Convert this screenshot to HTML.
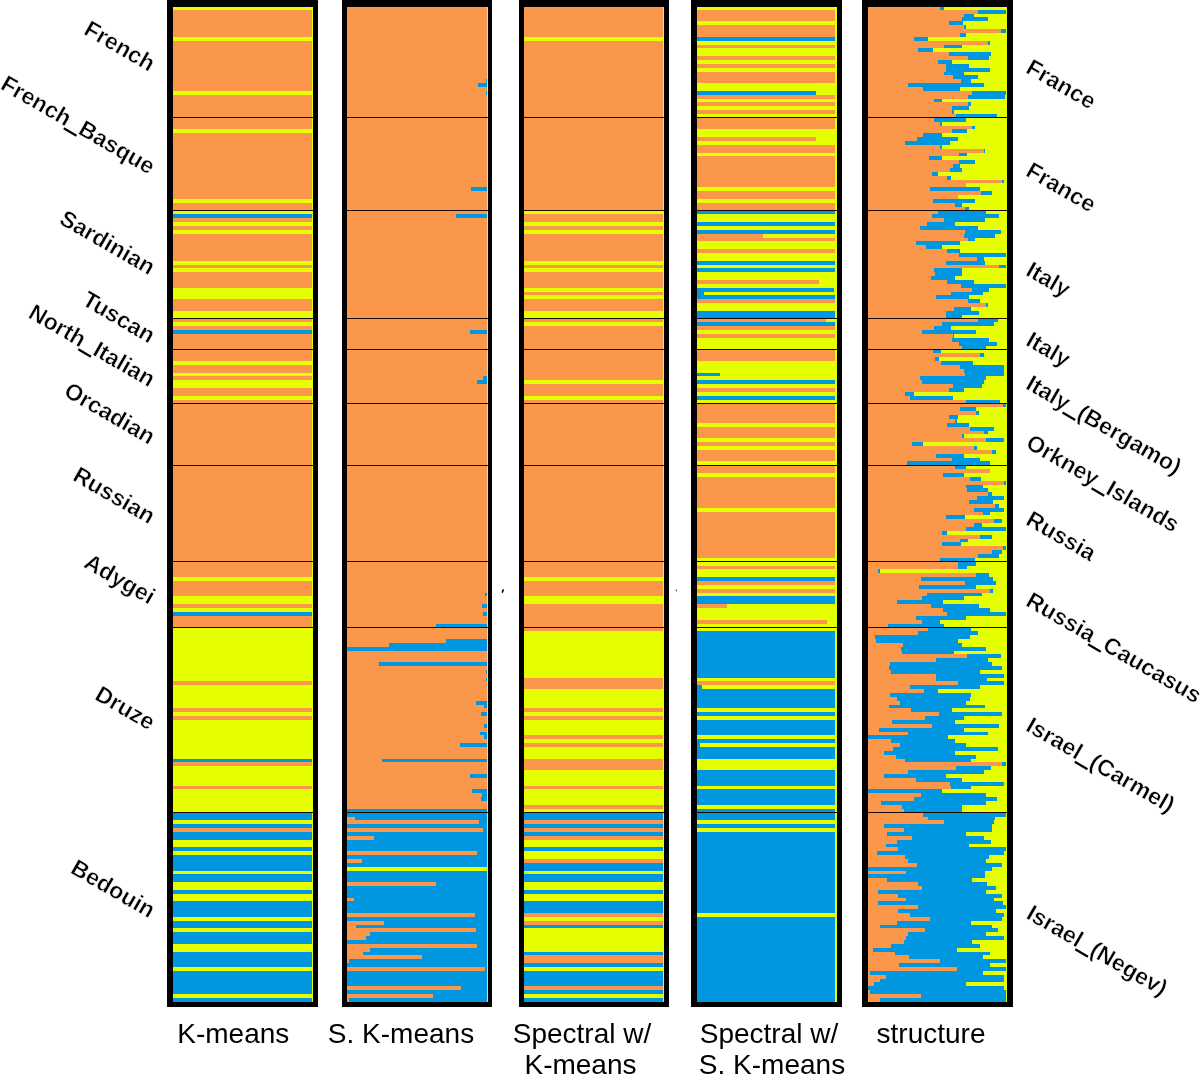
<!DOCTYPE html>
<html><head><meta charset="utf-8"><title>Clustering comparison</title>
<style>
html,body{margin:0;padding:0;background:#fff;}
body{width:1200px;height:1075px;overflow:hidden;}
svg{display:block;}
.c path,.c rect{shape-rendering:crispEdges;}
.lb{font-family:"Liberation Sans",Arial,sans-serif;font-weight:bold;font-size:23.1px;fill:#000;stroke:#fff;stroke-width:0.45px;}
.us{stroke:#000;stroke-width:1.4px;}
.bt{font-family:"Liberation Sans",Arial,sans-serif;font-size:28px;fill:#000;}
</style></head><body>
<svg width="1200" height="1075" viewBox="0 0 1200 1075">
<rect x="0" y="0" width="1200" height="1075" fill="#fff"/>
<g class="c"><rect x="166.9" y="-2" width="150.8" height="1008.88" fill="#000"/>
<rect x="172.8" y="5.9" width="140.1" height="995.88" fill="#e6ff00"/>
<path fill="#0096e0" d="M173 214.34h139v3.86h-139zM173 330.14h139v3.86h-139zM173 611.92h139v3.86h-139zM173 758.6h139v3.86h-139zM173 812.64h139v3.86h-139zM173 816.5h139v3.86h-139zM173 824.22h139v3.86h-139zM173 831.94h139v3.86h-139zM173 835.8h139v3.86h-139zM173 847.38h139v3.86h-139zM173 855.1h139v3.86h-139zM173 858.96h139v3.86h-139zM173 862.82h139v3.86h-139zM173 866.68h139v3.86h-139zM173 874.4h139v3.86h-139zM173 878.26h139v3.86h-139zM173 889.84h139v3.86h-139zM173 901.42h139v3.86h-139zM173 905.28h139v3.86h-139zM173 909.14h139v3.86h-139zM173 913h139v3.86h-139zM173 920.72h139v3.86h-139zM173 924.58h139v3.86h-139zM173 932.3h139v3.86h-139zM173 936.16h139v3.86h-139zM173 940.02h139v3.86h-139zM173 951.6h139v3.86h-139zM173 955.46h139v3.86h-139zM173 959.32h139v3.86h-139zM173 963.18h139v3.86h-139zM173 970.9h139v3.86h-139zM173 974.76h139v3.86h-139zM173 978.62h139v3.86h-139zM173 982.48h139v3.86h-139zM173 986.34h139v3.86h-139zM173 990.2h139v3.86h-139zM173 997.92h139v3.86h-139z"/>
<path fill="#fa974a" d="M172.8 5.9h0.2v3.86h-0.2zM172.8 9.76h139.2v3.86h-139.2zM172.8 13.62h139.2v3.86h-139.2zM172.8 17.48h139.2v3.86h-139.2zM172.8 21.34h139.2v3.86h-139.2zM172.8 25.2h139.2v3.86h-139.2zM172.8 29.06h139.2v3.86h-139.2zM172.8 32.92h139.2v3.86h-139.2zM172.8 36.78h0.2v3.86h-0.2zM172.8 40.64h139.2v3.86h-139.2zM172.8 44.5h139.2v3.86h-139.2zM172.8 48.36h139.2v3.86h-139.2zM172.8 52.22h139.2v3.86h-139.2zM172.8 56.08h139.2v3.86h-139.2zM172.8 59.94h139.2v3.86h-139.2zM172.8 63.8h139.2v3.86h-139.2zM172.8 67.66h139.2v3.86h-139.2zM172.8 71.52h139.2v3.86h-139.2zM172.8 75.38h139.2v3.86h-139.2zM172.8 79.24h139.2v3.86h-139.2zM172.8 83.1h139.2v3.86h-139.2zM172.8 86.96h139.2v3.86h-139.2zM172.8 90.82h0.2v3.86h-0.2zM172.8 94.68h139.2v3.86h-139.2zM172.8 98.54h139.2v3.86h-139.2zM172.8 102.4h139.2v3.86h-139.2zM172.8 106.26h139.2v3.86h-139.2zM172.8 110.12h139.2v3.86h-139.2zM172.8 113.98h139.2v3.86h-139.2zM172.8 117.84h139.2v3.86h-139.2zM172.8 121.7h139.2v3.86h-139.2zM172.8 125.56h139.2v3.86h-139.2zM172.8 129.42h0.2v3.86h-0.2zM172.8 133.28h139.2v3.86h-139.2zM172.8 137.14h139.2v3.86h-139.2zM172.8 141h139.2v3.86h-139.2zM172.8 144.86h139.2v3.86h-139.2zM172.8 148.72h139.2v3.86h-139.2zM172.8 152.58h139.2v3.86h-139.2zM172.8 156.44h139.2v3.86h-139.2zM172.8 160.3h139.2v3.86h-139.2zM172.8 164.16h139.2v3.86h-139.2zM172.8 168.02h139.2v3.86h-139.2zM172.8 171.88h139.2v3.86h-139.2zM172.8 175.74h139.2v3.86h-139.2zM172.8 179.6h139.2v3.86h-139.2zM172.8 183.46h139.2v3.86h-139.2zM172.8 187.32h139.2v3.86h-139.2zM172.8 191.18h139.2v3.86h-139.2zM172.8 195.04h139.2v3.86h-139.2zM172.8 198.9h0.2v3.86h-0.2zM172.8 202.76h139.2v3.86h-139.2zM172.8 206.62h139.2v3.86h-139.2zM172.8 210.48h0.2v3.86h-0.2zM172.8 214.34h0.2v3.86h-0.2zM172.8 218.2h139.2v3.86h-139.2zM172.8 222.06h0.2v3.86h-0.2zM172.8 225.92h139.2v3.86h-139.2zM172.8 229.78h0.2v3.86h-0.2zM172.8 233.64h139.2v3.86h-139.2zM172.8 237.5h139.2v3.86h-139.2zM172.8 241.36h139.2v3.86h-139.2zM172.8 245.22h139.2v3.86h-139.2zM172.8 249.08h139.2v3.86h-139.2zM172.8 252.94h139.2v3.86h-139.2zM172.8 256.8h139.2v3.86h-139.2zM172.8 260.66h0.2v3.86h-0.2zM172.8 264.52h139.2v3.86h-139.2zM172.8 268.38h0.2v3.86h-0.2zM172.8 272.24h139.2v3.86h-139.2zM172.8 276.1h139.2v3.86h-139.2zM172.8 279.96h139.2v3.86h-139.2zM172.8 283.82h139.2v3.86h-139.2zM172.8 287.68h0.2v3.86h-0.2zM172.8 291.54h0.2v3.86h-0.2zM172.8 295.4h0.2v3.86h-0.2zM172.8 299.26h139.2v3.86h-139.2zM172.8 303.12h139.2v3.86h-139.2zM172.8 306.98h139.2v3.86h-139.2zM172.8 310.84h0.2v3.86h-0.2zM172.8 314.7h0.2v3.86h-0.2zM172.8 318.56h139.2v3.86h-139.2zM172.8 322.42h0.2v3.86h-0.2zM172.8 326.28h139.2v3.86h-139.2zM172.8 330.14h0.2v3.86h-0.2zM172.8 334h139.2v3.86h-139.2zM172.8 337.86h139.2v3.86h-139.2zM172.8 341.72h139.2v3.86h-139.2zM172.8 345.58h139.2v3.86h-139.2zM172.8 349.44h139.2v3.86h-139.2zM172.8 353.3h139.2v3.86h-139.2zM172.8 357.16h139.2v3.86h-139.2zM172.8 361.02h0.2v3.86h-0.2zM172.8 364.88h139.2v3.86h-139.2zM172.8 368.74h139.2v3.86h-139.2zM172.8 372.6h0.2v3.86h-0.2zM172.8 376.46h139.2v3.86h-139.2zM172.8 380.32h0.2v3.86h-0.2zM172.8 384.18h0.2v3.86h-0.2zM172.8 388.04h139.2v3.86h-139.2zM172.8 391.9h139.2v3.86h-139.2zM172.8 395.76h0.2v3.86h-0.2zM172.8 399.62h139.2v3.86h-139.2zM172.8 403.48h139.2v3.86h-139.2zM172.8 407.34h139.2v3.86h-139.2zM172.8 411.2h139.2v3.86h-139.2zM172.8 415.06h139.2v3.86h-139.2zM172.8 418.92h139.2v3.86h-139.2zM172.8 422.78h139.2v3.86h-139.2zM172.8 426.64h139.2v3.86h-139.2zM172.8 430.5h139.2v3.86h-139.2zM172.8 434.36h139.2v3.86h-139.2zM172.8 438.22h139.2v3.86h-139.2zM172.8 442.08h139.2v3.86h-139.2zM172.8 445.94h139.2v3.86h-139.2zM172.8 449.8h139.2v3.86h-139.2zM172.8 453.66h139.2v3.86h-139.2zM172.8 457.52h139.2v3.86h-139.2zM172.8 461.38h139.2v3.86h-139.2zM172.8 465.24h139.2v3.86h-139.2zM172.8 469.1h139.2v3.86h-139.2zM172.8 472.96h139.2v3.86h-139.2zM172.8 476.82h139.2v3.86h-139.2zM172.8 480.68h139.2v3.86h-139.2zM172.8 484.54h139.2v3.86h-139.2zM172.8 488.4h139.2v3.86h-139.2zM172.8 492.26h139.2v3.86h-139.2zM172.8 496.12h139.2v3.86h-139.2zM172.8 499.98h139.2v3.86h-139.2zM172.8 503.84h139.2v3.86h-139.2zM172.8 507.7h139.2v3.86h-139.2zM172.8 511.56h139.2v3.86h-139.2zM172.8 515.42h139.2v3.86h-139.2zM172.8 519.28h139.2v3.86h-139.2zM172.8 523.14h139.2v3.86h-139.2zM172.8 527h139.2v3.86h-139.2zM172.8 530.86h139.2v3.86h-139.2zM172.8 534.72h139.2v3.86h-139.2zM172.8 538.58h139.2v3.86h-139.2zM172.8 542.44h139.2v3.86h-139.2zM172.8 546.3h139.2v3.86h-139.2zM172.8 550.16h139.2v3.86h-139.2zM172.8 554.02h139.2v3.86h-139.2zM172.8 557.88h139.2v3.86h-139.2zM172.8 561.74h139.2v3.86h-139.2zM172.8 565.6h139.2v3.86h-139.2zM172.8 569.46h139.2v3.86h-139.2zM172.8 573.32h139.2v3.86h-139.2zM172.8 577.18h0.2v3.86h-0.2zM172.8 581.04h139.2v3.86h-139.2zM172.8 584.9h139.2v3.86h-139.2zM172.8 588.76h139.2v3.86h-139.2zM172.8 592.62h139.2v3.86h-139.2zM172.8 596.48h0.2v3.86h-0.2zM172.8 600.34h0.2v3.86h-0.2zM172.8 604.2h139.2v3.86h-139.2zM172.8 608.06h0.2v3.86h-0.2zM172.8 611.92h0.2v3.86h-0.2zM172.8 615.78h139.2v3.86h-139.2zM172.8 619.64h139.2v3.86h-139.2zM172.8 623.5h139.2v3.86h-139.2zM172.8 627.36h0.2v3.86h-0.2zM172.8 631.22h0.2v3.86h-0.2zM172.8 635.08h0.2v3.86h-0.2zM172.8 638.94h0.2v3.86h-0.2zM172.8 642.8h0.2v3.86h-0.2zM172.8 646.66h0.2v3.86h-0.2zM172.8 650.52h0.2v3.86h-0.2zM172.8 654.38h0.2v3.86h-0.2zM172.8 658.24h0.2v3.86h-0.2zM172.8 662.1h0.2v3.86h-0.2zM172.8 665.96h0.2v3.86h-0.2zM172.8 669.82h0.2v3.86h-0.2zM172.8 673.68h0.2v3.86h-0.2zM172.8 677.54h0.2v3.86h-0.2zM172.8 681.4h139.2v3.86h-139.2zM172.8 685.26h0.2v3.86h-0.2zM172.8 689.12h0.2v3.86h-0.2zM172.8 692.98h0.2v3.86h-0.2zM172.8 696.84h0.2v3.86h-0.2zM172.8 700.7h0.2v3.86h-0.2zM172.8 704.56h0.2v3.86h-0.2zM172.8 708.42h139.2v3.86h-139.2zM172.8 712.28h0.2v3.86h-0.2zM172.8 716.14h139.2v3.86h-139.2zM172.8 720h0.2v3.86h-0.2zM172.8 723.86h0.2v3.86h-0.2zM172.8 727.72h0.2v3.86h-0.2zM172.8 731.58h0.2v3.86h-0.2zM172.8 735.44h0.2v3.86h-0.2zM172.8 739.3h0.2v3.86h-0.2zM172.8 743.16h0.2v3.86h-0.2zM172.8 747.02h0.2v3.86h-0.2zM172.8 750.88h0.2v3.86h-0.2zM172.8 754.74h0.2v3.86h-0.2zM172.8 758.6h0.2v3.86h-0.2zM172.8 762.46h139.2v3.86h-139.2zM172.8 766.32h0.2v3.86h-0.2zM172.8 770.18h0.2v3.86h-0.2zM172.8 774.04h0.2v3.86h-0.2zM172.8 777.9h0.2v3.86h-0.2zM172.8 781.76h0.2v3.86h-0.2zM172.8 785.62h139.2v3.86h-139.2zM172.8 789.48h0.2v3.86h-0.2zM172.8 793.34h0.2v3.86h-0.2zM172.8 797.2h0.2v3.86h-0.2zM172.8 801.06h0.2v3.86h-0.2zM172.8 804.92h0.2v3.86h-0.2zM172.8 808.78h0.2v3.86h-0.2zM172.8 812.64h0.2v3.86h-0.2zM172.8 816.5h0.2v3.86h-0.2zM172.8 820.36h0.2v3.86h-0.2zM172.8 824.22h0.2v3.86h-0.2zM172.8 828.08h139.2v3.86h-139.2zM172.8 831.94h0.2v3.86h-0.2zM172.8 835.8h0.2v3.86h-0.2zM172.8 839.66h0.2v3.86h-0.2zM172.8 843.52h0.2v3.86h-0.2zM172.8 847.38h0.2v3.86h-0.2zM172.8 851.24h0.2v3.86h-0.2zM172.8 855.1h0.2v3.86h-0.2zM172.8 858.96h0.2v3.86h-0.2zM172.8 862.82h0.2v3.86h-0.2zM172.8 866.68h0.2v3.86h-0.2zM172.8 870.54h0.2v3.86h-0.2zM172.8 874.4h0.2v3.86h-0.2zM172.8 878.26h0.2v3.86h-0.2zM172.8 882.12h0.2v3.86h-0.2zM172.8 885.98h0.2v3.86h-0.2zM172.8 889.84h0.2v3.86h-0.2zM172.8 893.7h0.2v3.86h-0.2zM172.8 897.56h0.2v3.86h-0.2zM172.8 901.42h0.2v3.86h-0.2zM172.8 905.28h0.2v3.86h-0.2zM172.8 909.14h0.2v3.86h-0.2zM172.8 913h0.2v3.86h-0.2zM172.8 916.86h0.2v3.86h-0.2zM172.8 920.72h0.2v3.86h-0.2zM172.8 924.58h0.2v3.86h-0.2zM172.8 928.44h0.2v3.86h-0.2zM172.8 932.3h0.2v3.86h-0.2zM172.8 936.16h0.2v3.86h-0.2zM172.8 940.02h0.2v3.86h-0.2zM172.8 943.88h0.2v3.86h-0.2zM172.8 947.74h0.2v3.86h-0.2zM172.8 951.6h0.2v3.86h-0.2zM172.8 955.46h0.2v3.86h-0.2zM172.8 959.32h0.2v3.86h-0.2zM172.8 963.18h0.2v3.86h-0.2zM172.8 967.04h0.2v3.86h-0.2zM172.8 970.9h0.2v3.86h-0.2zM172.8 974.76h0.2v3.86h-0.2zM172.8 978.62h0.2v3.86h-0.2zM172.8 982.48h0.2v3.86h-0.2zM172.8 986.34h0.2v3.86h-0.2zM172.8 990.2h0.2v3.86h-0.2zM172.8 994.06h0.2v3.86h-0.2zM172.8 997.92h0.2v3.86h-0.2z"/>
<rect x="172.8" y="117.19" width="140.1" height="1.3" fill="#1a0a00"/>
<rect x="172.8" y="209.83" width="140.1" height="1.3" fill="#1a0a00"/>
<rect x="172.8" y="317.91" width="140.1" height="1.3" fill="#1a0a00"/>
<rect x="172.8" y="348.79" width="140.1" height="1.3" fill="#1a0a00"/>
<rect x="172.8" y="402.83" width="140.1" height="1.3" fill="#1a0a00"/>
<rect x="172.8" y="464.59" width="140.1" height="1.3" fill="#1a0a00"/>
<rect x="172.8" y="561.09" width="140.1" height="1.3" fill="#1a0a00"/>
<rect x="172.8" y="626.71" width="140.1" height="1.3" fill="#1a0a00"/>
<rect x="172.8" y="811.99" width="140.1" height="1.3" fill="#1a0a00"/>
<rect x="166.9" y="-2" width="150.8" height="9" fill="#000"/></g>
<g class="c"><rect x="341.8" y="-2" width="150.5" height="1008.88" fill="#000"/>
<rect x="347.4" y="5.9" width="140.7" height="995.88" fill="#e6ff00"/>
<path fill="#0096e0" d="M486 79.24h1v3.86h-1zM478 83.1h9v3.86h-9zM486 90.82h1v3.86h-1zM471 187.32h16v3.86h-16zM456 214.34h31v3.86h-31zM470 330.14h17v3.86h-17zM483 376.46h4v3.86h-4zM477 380.32h10v3.86h-10zM485 592.62h2v3.86h-2zM482 604.2h5v3.86h-5zM483 611.92h4v3.86h-4zM436 623.5h51v3.86h-51zM446 638.94h41v3.86h-41zM389 642.8h98v3.86h-98zM347 646.66h140v3.86h-140zM379 662.1h108v3.86h-108zM486 669.82h1v3.86h-1zM486 677.54h1v3.86h-1zM476 700.7h11v3.86h-11zM484 704.56h3v3.86h-3zM481 712.28h6v3.86h-6zM484 723.86h3v3.86h-3zM480 731.58h7v3.86h-7zM484 735.44h3v3.86h-3zM460 743.16h27v3.86h-27zM382 758.6h105v3.86h-105zM470 774.04h17v3.86h-17zM472 789.48h15v3.86h-15zM482 793.34h5v3.86h-5zM481 797.2h6v3.86h-6zM347 808.78h140v3.86h-140zM347 812.64h140v3.86h-140zM355 816.5h132v3.86h-132zM479 820.36h8v3.86h-8zM347 824.22h140v3.86h-140zM483 828.08h4v3.86h-4zM347 831.94h140v3.86h-140zM374 835.8h113v3.86h-113zM347 839.66h140v3.86h-140zM347 843.52h140v3.86h-140zM347 847.38h140v3.86h-140zM477 851.24h10v3.86h-10zM347 855.1h140v3.86h-140zM362 858.96h125v3.86h-125zM347 862.82h140v3.86h-140zM347 870.54h140v3.86h-140zM347 874.4h140v3.86h-140zM347 878.26h140v3.86h-140zM436 882.12h51v3.86h-51zM347 885.98h140v3.86h-140zM347 889.84h140v3.86h-140zM347 893.7h140v3.86h-140zM354 897.56h133v3.86h-133zM347 901.42h140v3.86h-140zM347 905.28h140v3.86h-140zM347 909.14h140v3.86h-140zM475 913h12v3.86h-12zM347 916.86h140v3.86h-140zM384 920.72h103v3.86h-103zM356 924.58h131v3.86h-131zM476 928.44h11v3.86h-11zM370 932.3h117v3.86h-117zM366 936.16h121v3.86h-121zM347 940.02h140v3.86h-140zM477 943.88h10v3.86h-10zM370 947.74h117v3.86h-117zM363 951.6h124v3.86h-124zM422 955.46h65v3.86h-65zM349 959.32h138v3.86h-138zM347 963.18h140v3.86h-140zM485 967.04h2v3.86h-2zM347 970.9h140v3.86h-140zM347 974.76h140v3.86h-140zM347 978.62h140v3.86h-140zM347 982.48h140v3.86h-140zM461 986.34h26v3.86h-26zM347 990.2h140v3.86h-140zM433 994.06h54v3.86h-54zM349 997.92h138v3.86h-138z"/>
<path fill="#fa974a" d="M347.4 5.9h139.6v3.86h-139.6zM347.4 9.76h139.6v3.86h-139.6zM347.4 13.62h139.6v3.86h-139.6zM347.4 17.48h139.6v3.86h-139.6zM347.4 21.34h139.6v3.86h-139.6zM347.4 25.2h139.6v3.86h-139.6zM347.4 29.06h139.6v3.86h-139.6zM347.4 32.92h139.6v3.86h-139.6zM347.4 36.78h139.6v3.86h-139.6zM347.4 40.64h139.6v3.86h-139.6zM347.4 44.5h139.6v3.86h-139.6zM347.4 48.36h139.6v3.86h-139.6zM347.4 52.22h139.6v3.86h-139.6zM347.4 56.08h139.6v3.86h-139.6zM347.4 59.94h139.6v3.86h-139.6zM347.4 63.8h139.6v3.86h-139.6zM347.4 67.66h139.6v3.86h-139.6zM347.4 71.52h139.6v3.86h-139.6zM347.4 75.38h139.6v3.86h-139.6zM347.4 79.24h138.6v3.86h-138.6zM347.4 83.1h130.6v3.86h-130.6zM347.4 86.96h139.6v3.86h-139.6zM347.4 90.82h138.6v3.86h-138.6zM347.4 94.68h139.6v3.86h-139.6zM347.4 98.54h139.6v3.86h-139.6zM347.4 102.4h139.6v3.86h-139.6zM347.4 106.26h139.6v3.86h-139.6zM347.4 110.12h139.6v3.86h-139.6zM347.4 113.98h139.6v3.86h-139.6zM347.4 117.84h139.6v3.86h-139.6zM347.4 121.7h139.6v3.86h-139.6zM347.4 125.56h139.6v3.86h-139.6zM347.4 129.42h139.6v3.86h-139.6zM347.4 133.28h139.6v3.86h-139.6zM347.4 137.14h139.6v3.86h-139.6zM347.4 141h139.6v3.86h-139.6zM347.4 144.86h139.6v3.86h-139.6zM347.4 148.72h139.6v3.86h-139.6zM347.4 152.58h139.6v3.86h-139.6zM347.4 156.44h139.6v3.86h-139.6zM347.4 160.3h139.6v3.86h-139.6zM347.4 164.16h139.6v3.86h-139.6zM347.4 168.02h139.6v3.86h-139.6zM347.4 171.88h139.6v3.86h-139.6zM347.4 175.74h139.6v3.86h-139.6zM347.4 179.6h139.6v3.86h-139.6zM347.4 183.46h139.6v3.86h-139.6zM347.4 187.32h123.6v3.86h-123.6zM347.4 191.18h139.6v3.86h-139.6zM347.4 195.04h139.6v3.86h-139.6zM347.4 198.9h139.6v3.86h-139.6zM347.4 202.76h139.6v3.86h-139.6zM347.4 206.62h139.6v3.86h-139.6zM347.4 210.48h139.6v3.86h-139.6zM347.4 214.34h108.6v3.86h-108.6zM347.4 218.2h139.6v3.86h-139.6zM347.4 222.06h139.6v3.86h-139.6zM347.4 225.92h139.6v3.86h-139.6zM347.4 229.78h139.6v3.86h-139.6zM347.4 233.64h139.6v3.86h-139.6zM347.4 237.5h139.6v3.86h-139.6zM347.4 241.36h139.6v3.86h-139.6zM347.4 245.22h139.6v3.86h-139.6zM347.4 249.08h139.6v3.86h-139.6zM347.4 252.94h139.6v3.86h-139.6zM347.4 256.8h139.6v3.86h-139.6zM347.4 260.66h139.6v3.86h-139.6zM347.4 264.52h139.6v3.86h-139.6zM347.4 268.38h139.6v3.86h-139.6zM347.4 272.24h139.6v3.86h-139.6zM347.4 276.1h139.6v3.86h-139.6zM347.4 279.96h139.6v3.86h-139.6zM347.4 283.82h139.6v3.86h-139.6zM347.4 287.68h139.6v3.86h-139.6zM347.4 291.54h139.6v3.86h-139.6zM347.4 295.4h139.6v3.86h-139.6zM347.4 299.26h139.6v3.86h-139.6zM347.4 303.12h139.6v3.86h-139.6zM347.4 306.98h139.6v3.86h-139.6zM347.4 310.84h139.6v3.86h-139.6zM347.4 314.7h139.6v3.86h-139.6zM347.4 318.56h139.6v3.86h-139.6zM347.4 322.42h139.6v3.86h-139.6zM347.4 326.28h139.6v3.86h-139.6zM347.4 330.14h122.6v3.86h-122.6zM347.4 334h139.6v3.86h-139.6zM347.4 337.86h139.6v3.86h-139.6zM347.4 341.72h139.6v3.86h-139.6zM347.4 345.58h139.6v3.86h-139.6zM347.4 349.44h139.6v3.86h-139.6zM347.4 353.3h139.6v3.86h-139.6zM347.4 357.16h139.6v3.86h-139.6zM347.4 361.02h139.6v3.86h-139.6zM347.4 364.88h139.6v3.86h-139.6zM347.4 368.74h139.6v3.86h-139.6zM347.4 372.6h139.6v3.86h-139.6zM347.4 376.46h135.6v3.86h-135.6zM347.4 380.32h129.6v3.86h-129.6zM347.4 384.18h139.6v3.86h-139.6zM347.4 388.04h139.6v3.86h-139.6zM347.4 391.9h139.6v3.86h-139.6zM347.4 395.76h139.6v3.86h-139.6zM347.4 399.62h139.6v3.86h-139.6zM347.4 403.48h139.6v3.86h-139.6zM347.4 407.34h139.6v3.86h-139.6zM347.4 411.2h139.6v3.86h-139.6zM347.4 415.06h139.6v3.86h-139.6zM347.4 418.92h139.6v3.86h-139.6zM347.4 422.78h139.6v3.86h-139.6zM347.4 426.64h139.6v3.86h-139.6zM347.4 430.5h139.6v3.86h-139.6zM347.4 434.36h139.6v3.86h-139.6zM347.4 438.22h139.6v3.86h-139.6zM347.4 442.08h139.6v3.86h-139.6zM347.4 445.94h139.6v3.86h-139.6zM347.4 449.8h139.6v3.86h-139.6zM347.4 453.66h139.6v3.86h-139.6zM347.4 457.52h139.6v3.86h-139.6zM347.4 461.38h139.6v3.86h-139.6zM347.4 465.24h139.6v3.86h-139.6zM347.4 469.1h139.6v3.86h-139.6zM347.4 472.96h139.6v3.86h-139.6zM347.4 476.82h139.6v3.86h-139.6zM347.4 480.68h139.6v3.86h-139.6zM347.4 484.54h139.6v3.86h-139.6zM347.4 488.4h139.6v3.86h-139.6zM347.4 492.26h139.6v3.86h-139.6zM347.4 496.12h139.6v3.86h-139.6zM347.4 499.98h139.6v3.86h-139.6zM347.4 503.84h139.6v3.86h-139.6zM347.4 507.7h139.6v3.86h-139.6zM347.4 511.56h139.6v3.86h-139.6zM347.4 515.42h139.6v3.86h-139.6zM347.4 519.28h139.6v3.86h-139.6zM347.4 523.14h139.6v3.86h-139.6zM347.4 527h139.6v3.86h-139.6zM347.4 530.86h139.6v3.86h-139.6zM347.4 534.72h139.6v3.86h-139.6zM347.4 538.58h139.6v3.86h-139.6zM347.4 542.44h139.6v3.86h-139.6zM347.4 546.3h139.6v3.86h-139.6zM347.4 550.16h139.6v3.86h-139.6zM347.4 554.02h139.6v3.86h-139.6zM347.4 557.88h139.6v3.86h-139.6zM347.4 561.74h139.6v3.86h-139.6zM347.4 565.6h139.6v3.86h-139.6zM347.4 569.46h139.6v3.86h-139.6zM347.4 573.32h139.6v3.86h-139.6zM347.4 577.18h139.6v3.86h-139.6zM347.4 581.04h139.6v3.86h-139.6zM347.4 584.9h139.6v3.86h-139.6zM347.4 588.76h139.6v3.86h-139.6zM347.4 592.62h137.6v3.86h-137.6zM347.4 596.48h139.6v3.86h-139.6zM347.4 600.34h139.6v3.86h-139.6zM347.4 604.2h134.6v3.86h-134.6zM347.4 608.06h139.6v3.86h-139.6zM347.4 611.92h135.6v3.86h-135.6zM347.4 615.78h139.6v3.86h-139.6zM347.4 619.64h139.6v3.86h-139.6zM347.4 623.5h88.6v3.86h-88.6zM347.4 627.36h139.6v3.86h-139.6zM347.4 631.22h139.6v3.86h-139.6zM347.4 635.08h139.6v3.86h-139.6zM347.4 638.94h98.6v3.86h-98.6zM347.4 642.8h41.6v3.86h-41.6zM347.4 650.52h139.6v3.86h-139.6zM347.4 654.38h139.6v3.86h-139.6zM347.4 658.24h139.6v3.86h-139.6zM347.4 662.1h31.6v3.86h-31.6zM347.4 665.96h139.6v3.86h-139.6zM347.4 669.82h138.6v3.86h-138.6zM347.4 673.68h139.6v3.86h-139.6zM347.4 677.54h138.6v3.86h-138.6zM347.4 681.4h139.6v3.86h-139.6zM347.4 685.26h139.6v3.86h-139.6zM347.4 689.12h139.6v3.86h-139.6zM347.4 692.98h139.6v3.86h-139.6zM347.4 696.84h139.6v3.86h-139.6zM347.4 700.7h128.6v3.86h-128.6zM347.4 704.56h136.6v3.86h-136.6zM347.4 708.42h139.6v3.86h-139.6zM347.4 712.28h133.6v3.86h-133.6zM347.4 716.14h139.6v3.86h-139.6zM347.4 720h139.6v3.86h-139.6zM347.4 723.86h136.6v3.86h-136.6zM347.4 727.72h139.6v3.86h-139.6zM347.4 731.58h132.6v3.86h-132.6zM347.4 735.44h136.6v3.86h-136.6zM347.4 739.3h139.6v3.86h-139.6zM347.4 743.16h112.6v3.86h-112.6zM347.4 747.02h139.6v3.86h-139.6zM347.4 750.88h139.6v3.86h-139.6zM347.4 754.74h139.6v3.86h-139.6zM347.4 758.6h34.6v3.86h-34.6zM347.4 762.46h139.6v3.86h-139.6zM347.4 766.32h139.6v3.86h-139.6zM347.4 770.18h139.6v3.86h-139.6zM347.4 774.04h122.6v3.86h-122.6zM347.4 777.9h139.6v3.86h-139.6zM347.4 781.76h139.6v3.86h-139.6zM347.4 785.62h139.6v3.86h-139.6zM347.4 789.48h124.6v3.86h-124.6zM347.4 793.34h134.6v3.86h-134.6zM347.4 797.2h133.6v3.86h-133.6zM347.4 801.06h139.6v3.86h-139.6zM347.4 804.92h139.6v3.86h-139.6zM347.4 816.5h7.6v3.86h-7.6zM347.4 820.36h131.6v3.86h-131.6zM347.4 828.08h135.6v3.86h-135.6zM347.4 835.8h26.6v3.86h-26.6zM347.4 851.24h129.6v3.86h-129.6zM347.4 858.96h14.6v3.86h-14.6zM347.4 882.12h88.6v3.86h-88.6zM347.4 897.56h6.6v3.86h-6.6zM347.4 913h127.6v3.86h-127.6zM347.4 920.72h36.6v3.86h-36.6zM347.4 924.58h8.6v3.86h-8.6zM347.4 928.44h128.6v3.86h-128.6zM347.4 932.3h22.6v3.86h-22.6zM347.4 936.16h18.6v3.86h-18.6zM347.4 943.88h129.6v3.86h-129.6zM347.4 947.74h22.6v3.86h-22.6zM347.4 951.6h15.6v3.86h-15.6zM347.4 955.46h74.6v3.86h-74.6zM347.4 959.32h1.6v3.86h-1.6zM347.4 967.04h137.6v3.86h-137.6zM347.4 986.34h113.6v3.86h-113.6zM347.4 994.06h85.6v3.86h-85.6zM347.4 997.92h1.6v3.86h-1.6z"/>
<rect x="347.4" y="117.19" width="140.7" height="1.3" fill="#1a0a00"/>
<rect x="347.4" y="209.83" width="140.7" height="1.3" fill="#1a0a00"/>
<rect x="347.4" y="317.91" width="140.7" height="1.3" fill="#1a0a00"/>
<rect x="347.4" y="348.79" width="140.7" height="1.3" fill="#1a0a00"/>
<rect x="347.4" y="402.83" width="140.7" height="1.3" fill="#1a0a00"/>
<rect x="347.4" y="464.59" width="140.7" height="1.3" fill="#1a0a00"/>
<rect x="347.4" y="561.09" width="140.7" height="1.3" fill="#1a0a00"/>
<rect x="347.4" y="626.71" width="140.7" height="1.3" fill="#1a0a00"/>
<rect x="347.4" y="811.99" width="140.7" height="1.3" fill="#1a0a00"/>
<rect x="341.8" y="-2" width="150.5" height="9" fill="#000"/></g>
<g class="c"><rect x="518.5" y="-2" width="150.5" height="1008.88" fill="#000"/>
<rect x="523.75" y="5.9" width="140.35" height="995.88" fill="#e6ff00"/>
<path fill="#0096e0" d="M524 812.64h139v3.86h-139zM524 816.5h139v3.86h-139zM524 824.22h139v3.86h-139zM524 831.94h139v3.86h-139zM524 847.38h139v3.86h-139zM524 862.82h139v3.86h-139zM524 866.68h139v3.86h-139zM524 874.4h139v3.86h-139zM524 878.26h139v3.86h-139zM524 889.84h139v3.86h-139zM524 901.42h139v3.86h-139zM524 905.28h139v3.86h-139zM524 909.14h139v3.86h-139zM524 924.58h139v3.86h-139zM524 951.6h139v3.86h-139zM524 963.18h139v3.86h-139zM524 970.9h139v3.86h-139zM524 974.76h139v3.86h-139zM524 978.62h139v3.86h-139zM524 982.48h139v3.86h-139zM524 990.2h139v3.86h-139zM524 997.92h139v3.86h-139z"/>
<path fill="#fa974a" d="M523.75 5.9h139.25v3.86h-139.25zM523.75 9.76h139.25v3.86h-139.25zM523.75 13.62h139.25v3.86h-139.25zM523.75 17.48h139.25v3.86h-139.25zM523.75 21.34h139.25v3.86h-139.25zM523.75 25.2h139.25v3.86h-139.25zM523.75 29.06h139.25v3.86h-139.25zM523.75 32.92h139.25v3.86h-139.25zM523.75 36.78h0.25v3.86h-0.25zM523.75 40.64h139.25v3.86h-139.25zM523.75 44.5h139.25v3.86h-139.25zM523.75 48.36h139.25v3.86h-139.25zM523.75 52.22h139.25v3.86h-139.25zM523.75 56.08h139.25v3.86h-139.25zM523.75 59.94h139.25v3.86h-139.25zM523.75 63.8h139.25v3.86h-139.25zM523.75 67.66h139.25v3.86h-139.25zM523.75 71.52h139.25v3.86h-139.25zM523.75 75.38h139.25v3.86h-139.25zM523.75 79.24h139.25v3.86h-139.25zM523.75 83.1h139.25v3.86h-139.25zM523.75 86.96h139.25v3.86h-139.25zM523.75 90.82h139.25v3.86h-139.25zM523.75 94.68h139.25v3.86h-139.25zM523.75 98.54h139.25v3.86h-139.25zM523.75 102.4h139.25v3.86h-139.25zM523.75 106.26h139.25v3.86h-139.25zM523.75 110.12h139.25v3.86h-139.25zM523.75 113.98h139.25v3.86h-139.25zM523.75 117.84h139.25v3.86h-139.25zM523.75 121.7h139.25v3.86h-139.25zM523.75 125.56h139.25v3.86h-139.25zM523.75 129.42h139.25v3.86h-139.25zM523.75 133.28h139.25v3.86h-139.25zM523.75 137.14h139.25v3.86h-139.25zM523.75 141h139.25v3.86h-139.25zM523.75 144.86h139.25v3.86h-139.25zM523.75 148.72h139.25v3.86h-139.25zM523.75 152.58h139.25v3.86h-139.25zM523.75 156.44h139.25v3.86h-139.25zM523.75 160.3h139.25v3.86h-139.25zM523.75 164.16h139.25v3.86h-139.25zM523.75 168.02h139.25v3.86h-139.25zM523.75 171.88h139.25v3.86h-139.25zM523.75 175.74h139.25v3.86h-139.25zM523.75 179.6h139.25v3.86h-139.25zM523.75 183.46h139.25v3.86h-139.25zM523.75 187.32h139.25v3.86h-139.25zM523.75 191.18h139.25v3.86h-139.25zM523.75 195.04h139.25v3.86h-139.25zM523.75 198.9h139.25v3.86h-139.25zM523.75 202.76h139.25v3.86h-139.25zM523.75 206.62h139.25v3.86h-139.25zM523.75 210.48h0.25v3.86h-0.25zM523.75 214.34h139.25v3.86h-139.25zM523.75 218.2h139.25v3.86h-139.25zM523.75 222.06h0.25v3.86h-0.25zM523.75 225.92h139.25v3.86h-139.25zM523.75 229.78h0.25v3.86h-0.25zM523.75 233.64h139.25v3.86h-139.25zM523.75 237.5h139.25v3.86h-139.25zM523.75 241.36h139.25v3.86h-139.25zM523.75 245.22h139.25v3.86h-139.25zM523.75 249.08h139.25v3.86h-139.25zM523.75 252.94h139.25v3.86h-139.25zM523.75 256.8h139.25v3.86h-139.25zM523.75 260.66h0.25v3.86h-0.25zM523.75 264.52h139.25v3.86h-139.25zM523.75 268.38h0.25v3.86h-0.25zM523.75 272.24h139.25v3.86h-139.25zM523.75 276.1h139.25v3.86h-139.25zM523.75 279.96h139.25v3.86h-139.25zM523.75 283.82h139.25v3.86h-139.25zM523.75 287.68h0.25v3.86h-0.25zM523.75 291.54h139.25v3.86h-139.25zM523.75 295.4h0.25v3.86h-0.25zM523.75 299.26h139.25v3.86h-139.25zM523.75 303.12h139.25v3.86h-139.25zM523.75 306.98h139.25v3.86h-139.25zM523.75 310.84h0.25v3.86h-0.25zM523.75 314.7h0.25v3.86h-0.25zM523.75 318.56h139.25v3.86h-139.25zM523.75 322.42h0.25v3.86h-0.25zM523.75 326.28h139.25v3.86h-139.25zM523.75 330.14h139.25v3.86h-139.25zM523.75 334h139.25v3.86h-139.25zM523.75 337.86h139.25v3.86h-139.25zM523.75 341.72h139.25v3.86h-139.25zM523.75 345.58h139.25v3.86h-139.25zM523.75 349.44h139.25v3.86h-139.25zM523.75 353.3h139.25v3.86h-139.25zM523.75 357.16h139.25v3.86h-139.25zM523.75 361.02h139.25v3.86h-139.25zM523.75 364.88h139.25v3.86h-139.25zM523.75 368.74h139.25v3.86h-139.25zM523.75 372.6h139.25v3.86h-139.25zM523.75 376.46h139.25v3.86h-139.25zM523.75 380.32h0.25v3.86h-0.25zM523.75 384.18h139.25v3.86h-139.25zM523.75 388.04h139.25v3.86h-139.25zM523.75 391.9h139.25v3.86h-139.25zM523.75 395.76h0.25v3.86h-0.25zM523.75 399.62h139.25v3.86h-139.25zM523.75 403.48h139.25v3.86h-139.25zM523.75 407.34h139.25v3.86h-139.25zM523.75 411.2h139.25v3.86h-139.25zM523.75 415.06h139.25v3.86h-139.25zM523.75 418.92h139.25v3.86h-139.25zM523.75 422.78h139.25v3.86h-139.25zM523.75 426.64h139.25v3.86h-139.25zM523.75 430.5h139.25v3.86h-139.25zM523.75 434.36h139.25v3.86h-139.25zM523.75 438.22h139.25v3.86h-139.25zM523.75 442.08h139.25v3.86h-139.25zM523.75 445.94h139.25v3.86h-139.25zM523.75 449.8h139.25v3.86h-139.25zM523.75 453.66h139.25v3.86h-139.25zM523.75 457.52h139.25v3.86h-139.25zM523.75 461.38h139.25v3.86h-139.25zM523.75 465.24h139.25v3.86h-139.25zM523.75 469.1h139.25v3.86h-139.25zM523.75 472.96h139.25v3.86h-139.25zM523.75 476.82h139.25v3.86h-139.25zM523.75 480.68h139.25v3.86h-139.25zM523.75 484.54h139.25v3.86h-139.25zM523.75 488.4h139.25v3.86h-139.25zM523.75 492.26h139.25v3.86h-139.25zM523.75 496.12h139.25v3.86h-139.25zM523.75 499.98h139.25v3.86h-139.25zM523.75 503.84h139.25v3.86h-139.25zM523.75 507.7h139.25v3.86h-139.25zM523.75 511.56h139.25v3.86h-139.25zM523.75 515.42h139.25v3.86h-139.25zM523.75 519.28h139.25v3.86h-139.25zM523.75 523.14h139.25v3.86h-139.25zM523.75 527h139.25v3.86h-139.25zM523.75 530.86h139.25v3.86h-139.25zM523.75 534.72h139.25v3.86h-139.25zM523.75 538.58h139.25v3.86h-139.25zM523.75 542.44h139.25v3.86h-139.25zM523.75 546.3h139.25v3.86h-139.25zM523.75 550.16h139.25v3.86h-139.25zM523.75 554.02h139.25v3.86h-139.25zM523.75 557.88h139.25v3.86h-139.25zM523.75 561.74h139.25v3.86h-139.25zM523.75 565.6h139.25v3.86h-139.25zM523.75 569.46h139.25v3.86h-139.25zM523.75 573.32h139.25v3.86h-139.25zM523.75 577.18h0.25v3.86h-0.25zM523.75 581.04h139.25v3.86h-139.25zM523.75 584.9h139.25v3.86h-139.25zM523.75 588.76h139.25v3.86h-139.25zM523.75 592.62h139.25v3.86h-139.25zM523.75 596.48h0.25v3.86h-0.25zM523.75 600.34h0.25v3.86h-0.25zM523.75 604.2h139.25v3.86h-139.25zM523.75 608.06h139.25v3.86h-139.25zM523.75 611.92h139.25v3.86h-139.25zM523.75 615.78h139.25v3.86h-139.25zM523.75 619.64h139.25v3.86h-139.25zM523.75 623.5h139.25v3.86h-139.25zM523.75 627.36h139.25v3.86h-139.25zM523.75 631.22h0.25v3.86h-0.25zM523.75 635.08h0.25v3.86h-0.25zM523.75 638.94h0.25v3.86h-0.25zM523.75 642.8h0.25v3.86h-0.25zM523.75 646.66h0.25v3.86h-0.25zM523.75 650.52h0.25v3.86h-0.25zM523.75 654.38h0.25v3.86h-0.25zM523.75 658.24h0.25v3.86h-0.25zM523.75 662.1h0.25v3.86h-0.25zM523.75 665.96h0.25v3.86h-0.25zM523.75 669.82h0.25v3.86h-0.25zM523.75 673.68h0.25v3.86h-0.25zM523.75 677.54h139.25v3.86h-139.25zM523.75 681.4h139.25v3.86h-139.25zM523.75 685.26h139.25v3.86h-139.25zM523.75 689.12h0.25v3.86h-0.25zM523.75 692.98h0.25v3.86h-0.25zM523.75 696.84h0.25v3.86h-0.25zM523.75 700.7h0.25v3.86h-0.25zM523.75 704.56h0.25v3.86h-0.25zM523.75 708.42h139.25v3.86h-139.25zM523.75 712.28h0.25v3.86h-0.25zM523.75 716.14h139.25v3.86h-139.25zM523.75 720h0.25v3.86h-0.25zM523.75 723.86h0.25v3.86h-0.25zM523.75 727.72h0.25v3.86h-0.25zM523.75 731.58h0.25v3.86h-0.25zM523.75 735.44h139.25v3.86h-139.25zM523.75 739.3h0.25v3.86h-0.25zM523.75 743.16h139.25v3.86h-139.25zM523.75 747.02h0.25v3.86h-0.25zM523.75 750.88h0.25v3.86h-0.25zM523.75 754.74h0.25v3.86h-0.25zM523.75 758.6h139.25v3.86h-139.25zM523.75 762.46h139.25v3.86h-139.25zM523.75 766.32h139.25v3.86h-139.25zM523.75 770.18h0.25v3.86h-0.25zM523.75 774.04h0.25v3.86h-0.25zM523.75 777.9h0.25v3.86h-0.25zM523.75 781.76h0.25v3.86h-0.25zM523.75 785.62h139.25v3.86h-139.25zM523.75 789.48h0.25v3.86h-0.25zM523.75 793.34h0.25v3.86h-0.25zM523.75 797.2h0.25v3.86h-0.25zM523.75 801.06h0.25v3.86h-0.25zM523.75 804.92h139.25v3.86h-139.25zM523.75 808.78h0.25v3.86h-0.25zM523.75 812.64h0.25v3.86h-0.25zM523.75 816.5h0.25v3.86h-0.25zM523.75 820.36h139.25v3.86h-139.25zM523.75 824.22h0.25v3.86h-0.25zM523.75 828.08h139.25v3.86h-139.25zM523.75 831.94h0.25v3.86h-0.25zM523.75 835.8h139.25v3.86h-139.25zM523.75 839.66h0.25v3.86h-0.25zM523.75 843.52h0.25v3.86h-0.25zM523.75 847.38h0.25v3.86h-0.25zM523.75 851.24h0.25v3.86h-0.25zM523.75 855.1h0.25v3.86h-0.25zM523.75 858.96h139.25v3.86h-139.25zM523.75 862.82h0.25v3.86h-0.25zM523.75 866.68h0.25v3.86h-0.25zM523.75 870.54h0.25v3.86h-0.25zM523.75 874.4h0.25v3.86h-0.25zM523.75 878.26h0.25v3.86h-0.25zM523.75 882.12h0.25v3.86h-0.25zM523.75 885.98h0.25v3.86h-0.25zM523.75 889.84h0.25v3.86h-0.25zM523.75 893.7h0.25v3.86h-0.25zM523.75 897.56h0.25v3.86h-0.25zM523.75 901.42h0.25v3.86h-0.25zM523.75 905.28h0.25v3.86h-0.25zM523.75 909.14h0.25v3.86h-0.25zM523.75 913h139.25v3.86h-139.25zM523.75 916.86h0.25v3.86h-0.25zM523.75 920.72h139.25v3.86h-139.25zM523.75 924.58h0.25v3.86h-0.25zM523.75 928.44h0.25v3.86h-0.25zM523.75 932.3h0.25v3.86h-0.25zM523.75 936.16h0.25v3.86h-0.25zM523.75 940.02h0.25v3.86h-0.25zM523.75 943.88h0.25v3.86h-0.25zM523.75 947.74h0.25v3.86h-0.25zM523.75 951.6h0.25v3.86h-0.25zM523.75 955.46h139.25v3.86h-139.25zM523.75 959.32h139.25v3.86h-139.25zM523.75 963.18h0.25v3.86h-0.25zM523.75 967.04h0.25v3.86h-0.25zM523.75 970.9h0.25v3.86h-0.25zM523.75 974.76h0.25v3.86h-0.25zM523.75 978.62h0.25v3.86h-0.25zM523.75 982.48h0.25v3.86h-0.25zM523.75 986.34h139.25v3.86h-139.25zM523.75 990.2h0.25v3.86h-0.25zM523.75 994.06h0.25v3.86h-0.25zM523.75 997.92h0.25v3.86h-0.25z"/>
<rect x="523.75" y="117.19" width="140.35" height="1.3" fill="#1a0a00"/>
<rect x="523.75" y="209.83" width="140.35" height="1.3" fill="#1a0a00"/>
<rect x="523.75" y="317.91" width="140.35" height="1.3" fill="#1a0a00"/>
<rect x="523.75" y="348.79" width="140.35" height="1.3" fill="#1a0a00"/>
<rect x="523.75" y="402.83" width="140.35" height="1.3" fill="#1a0a00"/>
<rect x="523.75" y="464.59" width="140.35" height="1.3" fill="#1a0a00"/>
<rect x="523.75" y="561.09" width="140.35" height="1.3" fill="#1a0a00"/>
<rect x="523.75" y="626.71" width="140.35" height="1.3" fill="#1a0a00"/>
<rect x="523.75" y="811.99" width="140.35" height="1.3" fill="#1a0a00"/>
<rect x="518.5" y="-2" width="150.5" height="9" fill="#000"/></g>
<g class="c"><rect x="690.8" y="-2" width="151.2" height="1008.88" fill="#000"/>
<rect x="697" y="5.9" width="139.5" height="995.88" fill="#e6ff00"/>
<path fill="#0096e0" d="M697 36.78h138v3.86h-138zM697 90.82h119v3.86h-119zM697 210.48h138v3.86h-138zM697 222.06h138v3.86h-138zM697 229.78h138v3.86h-138zM697 260.66h138v3.86h-138zM697 268.38h138v3.86h-138zM697 287.68h137v3.86h-137zM697 291.54h7v3.86h-7zM697 295.4h138v3.86h-138zM697 310.84h138v3.86h-138zM697 314.7h138v3.86h-138zM697 322.42h138v3.86h-138zM697 372.6h23v3.86h-23zM697 380.32h138v3.86h-138zM697 395.76h138v3.86h-138zM697 577.18h138v3.86h-138zM697 596.48h138v3.86h-138zM697 600.34h138v3.86h-138zM697 631.22h138v3.86h-138zM697 635.08h138v3.86h-138zM697 638.94h138v3.86h-138zM697 642.8h138v3.86h-138zM697 646.66h138v3.86h-138zM697 650.52h138v3.86h-138zM697 654.38h138v3.86h-138zM697 658.24h138v3.86h-138zM697 662.1h138v3.86h-138zM697 665.96h138v3.86h-138zM697 669.82h138v3.86h-138zM697 673.68h138v3.86h-138zM697 685.26h5v3.86h-5zM697 689.12h138v3.86h-138zM697 692.98h138v3.86h-138zM697 696.84h138v3.86h-138zM697 700.7h138v3.86h-138zM697 704.56h138v3.86h-138zM697 712.28h138v3.86h-138zM697 720h138v3.86h-138zM697 723.86h138v3.86h-138zM697 727.72h138v3.86h-138zM697 731.58h138v3.86h-138zM697 739.3h138v3.86h-138zM697 743.16h3v3.86h-3zM697 747.02h138v3.86h-138zM697 750.88h138v3.86h-138zM697 754.74h138v3.86h-138zM697 770.18h138v3.86h-138zM697 774.04h138v3.86h-138zM697 777.9h138v3.86h-138zM697 781.76h138v3.86h-138zM697 789.48h138v3.86h-138zM697 793.34h138v3.86h-138zM697 797.2h138v3.86h-138zM697 801.06h138v3.86h-138zM697 808.78h138v3.86h-138zM697 812.64h138v3.86h-138zM697 816.5h138v3.86h-138zM697 824.22h138v3.86h-138zM697 831.94h138v3.86h-138zM697 835.8h138v3.86h-138zM697 839.66h138v3.86h-138zM697 843.52h138v3.86h-138zM697 847.38h138v3.86h-138zM697 851.24h138v3.86h-138zM697 855.1h138v3.86h-138zM697 858.96h138v3.86h-138zM697 862.82h138v3.86h-138zM697 866.68h138v3.86h-138zM697 870.54h138v3.86h-138zM697 874.4h138v3.86h-138zM697 878.26h138v3.86h-138zM697 882.12h138v3.86h-138zM697 885.98h138v3.86h-138zM697 889.84h138v3.86h-138zM697 893.7h138v3.86h-138zM697 897.56h138v3.86h-138zM697 901.42h138v3.86h-138zM697 905.28h138v3.86h-138zM697 909.14h138v3.86h-138zM697 916.86h138v3.86h-138zM697 920.72h138v3.86h-138zM697 924.58h138v3.86h-138zM697 928.44h138v3.86h-138zM697 932.3h138v3.86h-138zM697 936.16h138v3.86h-138zM697 940.02h138v3.86h-138zM697 943.88h138v3.86h-138zM697 947.74h138v3.86h-138zM697 951.6h138v3.86h-138zM697 955.46h138v3.86h-138zM697 959.32h138v3.86h-138zM697 963.18h138v3.86h-138zM697 967.04h138v3.86h-138zM697 970.9h138v3.86h-138zM697 974.76h138v3.86h-138zM697 978.62h138v3.86h-138zM697 982.48h138v3.86h-138zM697 986.34h138v3.86h-138zM697 990.2h138v3.86h-138zM697 994.06h138v3.86h-138zM697 997.92h138v3.86h-138z"/>
<path fill="#fa974a" d="M697 9.76h138v3.86h-138zM697 13.62h138v3.86h-138zM697 17.48h138v3.86h-138zM697 25.2h138v3.86h-138zM697 29.06h138v3.86h-138zM697 32.92h138v3.86h-138zM697 44.5h138v3.86h-138zM697 56.08h138v3.86h-138zM697 63.8h138v3.86h-138zM697 71.52h138v3.86h-138zM697 75.38h138v3.86h-138zM697 79.24h138v3.86h-138zM697 94.68h138v3.86h-138zM697 102.4h138v3.86h-138zM697 110.12h138v3.86h-138zM697 117.84h138v3.86h-138zM697 121.7h138v3.86h-138zM697 125.56h138v3.86h-138zM697 137.14h119v3.86h-119zM697 144.86h138v3.86h-138zM697 148.72h138v3.86h-138zM697 156.44h138v3.86h-138zM697 160.3h138v3.86h-138zM697 164.16h138v3.86h-138zM697 168.02h138v3.86h-138zM697 171.88h138v3.86h-138zM697 175.74h138v3.86h-138zM697 179.6h138v3.86h-138zM697 183.46h138v3.86h-138zM697 191.18h138v3.86h-138zM697 195.04h138v3.86h-138zM697 202.76h138v3.86h-138zM697 206.62h138v3.86h-138zM697 233.64h66v3.86h-66zM697 237.5h138v3.86h-138zM697 249.08h138v3.86h-138zM697 279.96h122v3.86h-122zM697 299.26h138v3.86h-138zM697 318.56h129v3.86h-129zM697 326.28h138v3.86h-138zM697 334h138v3.86h-138zM697 349.44h138v3.86h-138zM697 353.3h138v3.86h-138zM697 357.16h138v3.86h-138zM697 388.04h138v3.86h-138zM697 403.48h138v3.86h-138zM697 407.34h138v3.86h-138zM697 411.2h138v3.86h-138zM697 415.06h138v3.86h-138zM697 418.92h138v3.86h-138zM697 426.64h138v3.86h-138zM697 430.5h138v3.86h-138zM697 434.36h138v3.86h-138zM697 442.08h138v3.86h-138zM697 449.8h138v3.86h-138zM697 453.66h138v3.86h-138zM697 457.52h138v3.86h-138zM697 465.24h138v3.86h-138zM697 469.1h138v3.86h-138zM697 476.82h138v3.86h-138zM697 480.68h138v3.86h-138zM697 484.54h138v3.86h-138zM697 488.4h138v3.86h-138zM697 492.26h138v3.86h-138zM697 496.12h138v3.86h-138zM697 499.98h138v3.86h-138zM697 503.84h138v3.86h-138zM697 511.56h138v3.86h-138zM697 515.42h138v3.86h-138zM697 519.28h138v3.86h-138zM697 523.14h138v3.86h-138zM697 527h138v3.86h-138zM697 530.86h138v3.86h-138zM697 534.72h138v3.86h-138zM697 538.58h138v3.86h-138zM697 542.44h138v3.86h-138zM697 546.3h138v3.86h-138zM697 550.16h138v3.86h-138zM697 554.02h138v3.86h-138zM697 565.6h138v3.86h-138zM697 581.04h138v3.86h-138zM697 588.76h138v3.86h-138zM697 604.2h30v3.86h-30zM697 619.64h130v3.86h-130zM697 681.4h138v3.86h-138z"/>
<rect x="697" y="117.19" width="139.5" height="1.3" fill="#1a0a00"/>
<rect x="697" y="209.83" width="139.5" height="1.3" fill="#1a0a00"/>
<rect x="697" y="317.91" width="139.5" height="1.3" fill="#1a0a00"/>
<rect x="697" y="348.79" width="139.5" height="1.3" fill="#1a0a00"/>
<rect x="697" y="402.83" width="139.5" height="1.3" fill="#1a0a00"/>
<rect x="697" y="464.59" width="139.5" height="1.3" fill="#1a0a00"/>
<rect x="697" y="561.09" width="139.5" height="1.3" fill="#1a0a00"/>
<rect x="697" y="626.71" width="139.5" height="1.3" fill="#1a0a00"/>
<rect x="697" y="811.99" width="139.5" height="1.3" fill="#1a0a00"/>
<rect x="690.8" y="-2" width="151.2" height="9" fill="#000"/></g>
<g class="c"><rect x="861.9" y="-2" width="150.9" height="1008.88" fill="#000"/>
<rect x="867.9" y="5.9" width="139.2" height="995.88" fill="#e6ff00"/>
<path fill="#0096e0" d="M940 5.9h4v3.86h-4zM978 9.76h28v3.86h-28zM964 13.62h10v3.86h-10zM962 17.48h26v3.86h-26zM949 21.34h14v3.86h-14zM964 25.2h2v3.86h-2zM1001 29.06h5v3.86h-5zM960 32.92h6v3.86h-6zM914 36.78h14v3.86h-14zM988 40.64h2v3.86h-2zM944 44.5h18v3.86h-18zM918 48.36h15v3.86h-15zM949 52.22h42v3.86h-42zM968 56.08h21v3.86h-21zM938 59.94h14v3.86h-14zM946 63.8h23v3.86h-23zM946 67.66h44v3.86h-44zM944 71.52h20v3.86h-20zM953 75.38h25v3.86h-25zM961 79.24h10v3.86h-10zM908 83.1h76v3.86h-76zM923 86.96h37v3.86h-37zM972 90.82h34v3.86h-34zM968 94.68h37v3.86h-37zM934 98.54h8v3.86h-8zM968 102.4h3v3.86h-3zM952 106.26h17v3.86h-17zM952 110.12h2v3.86h-2zM956 113.98h41v3.86h-41zM934 117.84h32v3.86h-32zM940 121.7h2v3.86h-2zM972 125.56h3v3.86h-3zM952 129.42h15v3.86h-15zM923 133.28h19v3.86h-19zM917 137.14h41v3.86h-41zM905 141h45v3.86h-45zM940 144.86h2v3.86h-2zM984 148.72h1v3.86h-1zM959 152.58h8v3.86h-8zM929 156.44h13v3.86h-13zM959 160.3h16v3.86h-16zM953 164.16h7v3.86h-7zM950 168.02h12v3.86h-12zM932 171.88h6v3.86h-6zM947 175.74h4v3.86h-4zM1002 179.6h2v3.86h-2zM930 187.32h50v3.86h-50zM981 191.18h11v3.86h-11zM933 198.9h42v3.86h-42zM955 202.76h7v3.86h-7zM965 206.62h4v3.86h-4zM938 210.48h48v3.86h-48zM932 214.34h67v3.86h-67zM944 218.2h41v3.86h-41zM927 222.06h28v3.86h-28zM920 225.92h58v3.86h-58zM965 229.78h36v3.86h-36zM964 233.64h31v3.86h-31zM968 237.5h7v3.86h-7zM916 241.36h44v3.86h-44zM926 245.22h16v3.86h-16zM947 249.08h13v3.86h-13zM959 252.94h47v3.86h-47zM977 256.8h7v3.86h-7zM946 260.66h39v3.86h-39zM999 264.52h7v3.86h-7zM934 268.38h28v3.86h-28zM935 272.24h27v3.86h-27zM931 276.1h24v3.86h-24zM947 279.96h27v3.86h-27zM961 283.82h45v3.86h-45zM972 287.68h17v3.86h-17zM951 291.54h32v3.86h-32zM936 295.4h33v3.86h-33zM968 299.26h12v3.86h-12zM986 303.12h2v3.86h-2zM954 306.98h17v3.86h-17zM946 310.84h33v3.86h-33zM946 314.7h16v3.86h-16zM978 318.56h20v3.86h-20zM942 322.42h52v3.86h-52zM934 326.28h17v3.86h-17zM922 330.14h54v3.86h-54zM953 334h1v3.86h-1zM952 337.86h37v3.86h-37zM959 341.72h38v3.86h-38zM962 345.58h24v3.86h-24zM933 349.44h8v3.86h-8zM980 353.3h4v3.86h-4zM935 357.16h4v3.86h-4zM941 361.02h32v3.86h-32zM960 364.88h44v3.86h-44zM964 368.74h40v3.86h-40zM965 372.6h39v3.86h-39zM920 376.46h66v3.86h-66zM922 380.32h62v3.86h-62zM953 384.18h29v3.86h-29zM949 388.04h15v3.86h-15zM905 391.9h9v3.86h-9zM910 395.76h43v3.86h-43zM966 399.62h34v3.86h-34zM1003 403.48h3v3.86h-3zM960 407.34h16v3.86h-16zM976 411.2h3v3.86h-3zM949 415.06h9v3.86h-9zM955 418.92h2v3.86h-2zM947 422.78h22v3.86h-22zM970 426.64h24v3.86h-24zM984 430.5h4v3.86h-4zM962 434.36h2v3.86h-2zM986 438.22h18v3.86h-18zM912 442.08h11v3.86h-11zM974 445.94h3v3.86h-3zM992 449.8h4v3.86h-4zM936 453.66h28v3.86h-28zM952 457.52h28v3.86h-28zM907 461.38h83v3.86h-83zM955 465.24h11v3.86h-11zM943 472.96h21v3.86h-21zM970 476.82h11v3.86h-11zM1004 480.68h2v3.86h-2zM966 484.54h17v3.86h-17zM967 488.4h21v3.86h-21zM988 492.26h4v3.86h-4zM977 496.12h27v3.86h-27zM969 499.98h24v3.86h-24zM995 503.84h4v3.86h-4zM974 507.7h30v3.86h-30zM983 511.56h7v3.86h-7zM946 515.42h19v3.86h-19zM994 519.28h8v3.86h-8zM974 523.14h8v3.86h-8zM966 527h40v3.86h-40zM942 530.86h5v3.86h-5zM980 534.72h12v3.86h-12zM960 538.58h8v3.86h-8zM942 542.44h19v3.86h-19zM1003 546.3h3v3.86h-3zM992 550.16h10v3.86h-10zM978 554.02h21v3.86h-21zM940 557.88h35v3.86h-35zM958 561.74h18v3.86h-18zM958 565.6h9v3.86h-9zM878 569.46h2v3.86h-2zM976 573.32h13v3.86h-13zM921 577.18h72v3.86h-72zM965 581.04h31v3.86h-31zM919 584.9h57v3.86h-57zM990 588.76h3v3.86h-3zM927 592.62h55v3.86h-55zM922 596.48h42v3.86h-42zM897 600.34h46v3.86h-46zM931 604.2h48v3.86h-48zM943 608.06h47v3.86h-47zM947 611.92h59v3.86h-59zM916 615.78h50v3.86h-50zM922 619.64h18v3.86h-18zM888 623.5h56v3.86h-56zM928 627.36h43v3.86h-43zM918 631.22h60v3.86h-60zM875 635.08h95v3.86h-95zM876 638.94h82v3.86h-82zM903 642.8h59v3.86h-59zM901 646.66h85v3.86h-85zM902 650.52h52v3.86h-52zM967 654.38h34v3.86h-34zM936 658.24h52v3.86h-52zM890 662.1h102v3.86h-102zM889 665.96h113v3.86h-113zM891 669.82h89v3.86h-89zM936 673.68h68v3.86h-68zM936 677.54h51v3.86h-51zM958 681.4h46v3.86h-46zM910 685.26h70v3.86h-70zM924 689.12h14v3.86h-14zM890 692.98h81v3.86h-81zM897 696.84h73v3.86h-73zM900 700.7h66v3.86h-66zM889 704.56h96v3.86h-96zM911 708.42h41v3.86h-41zM939 712.28h63v3.86h-63zM925 716.14h39v3.86h-39zM892 720h63v3.86h-63zM932 723.86h67v3.86h-67zM879 727.72h85v3.86h-85zM908 731.58h80v3.86h-80zM868 735.44h80v3.86h-80zM891 739.3h64v3.86h-64zM900 743.16h66v3.86h-66zM893 747.02h105v3.86h-105zM884 750.88h71v3.86h-71zM896 754.74h80v3.86h-80zM905 758.6h66v3.86h-66zM1002 762.46h4v3.86h-4zM956 766.32h35v3.86h-35zM908 770.18h76v3.86h-76zM884 774.04h62v3.86h-62zM916 777.9h46v3.86h-46zM950 781.76h54v3.86h-54zM951 785.62h20v3.86h-20zM868 789.48h74v3.86h-74zM921 793.34h65v3.86h-65zM914 797.2h83v3.86h-83zM881 801.06h105v3.86h-105zM902 804.92h60v3.86h-60zM904 808.78h58v3.86h-58zM923 812.64h83v3.86h-83zM928 816.5h67v3.86h-67zM944 820.36h50v3.86h-50zM884 824.22h108v3.86h-108zM904 828.08h88v3.86h-88zM887 831.94h79v3.86h-79zM912 835.8h72v3.86h-72zM897 839.66h94v3.86h-94zM886 843.52h83v3.86h-83zM898 847.38h108v3.86h-108zM877 851.24h127v3.86h-127zM905 855.1h84v3.86h-84zM908 858.96h78v3.86h-78zM917 862.82h85v3.86h-85zM868 866.68h124v3.86h-124zM906 870.54h79v3.86h-79zM868 874.4h117v3.86h-117zM887 878.26h85v3.86h-85zM918 882.12h69v3.86h-69zM922 885.98h74v3.86h-74zM878 889.84h108v3.86h-108zM898 893.7h104v3.86h-104zM906 897.56h88v3.86h-88zM878 901.42h125v3.86h-125zM918 905.28h88v3.86h-88zM898 909.14h98v3.86h-98zM910 913h94v3.86h-94zM930 916.86h72v3.86h-72zM897 920.72h74v3.86h-74zM880 924.58h112v3.86h-112zM925 928.44h73v3.86h-73zM908 932.3h78v3.86h-78zM906 936.16h98v3.86h-98zM904 940.02h68v3.86h-68zM891 943.88h89v3.86h-89zM873 947.74h84v3.86h-84zM895 951.6h95v3.86h-95zM909 955.46h74v3.86h-74zM940 959.32h66v3.86h-66zM899 963.18h91v3.86h-91zM957 967.04h49v3.86h-49zM870 970.9h113v3.86h-113zM886 974.76h118v3.86h-118zM880 978.62h124v3.86h-124zM874 982.48h92v3.86h-92zM868 986.34h136v3.86h-136zM870 990.2h136v3.86h-136zM921 994.06h85v3.86h-85zM880 997.92h126v3.86h-126z"/>
<path fill="#fa974a" d="M867.9 5.9h72.1v3.86h-72.1zM867.9 9.76h110.1v3.86h-110.1zM867.9 13.62h96.1v3.86h-96.1zM867.9 17.48h94.1v3.86h-94.1zM867.9 21.34h81.1v3.86h-81.1zM867.9 25.2h96.1v3.86h-96.1zM867.9 29.06h133.1v3.86h-133.1zM867.9 32.92h92.1v3.86h-92.1zM867.9 36.78h46.1v3.86h-46.1zM867.9 40.64h120.1v3.86h-120.1zM867.9 44.5h76.1v3.86h-76.1zM867.9 48.36h50.1v3.86h-50.1zM867.9 52.22h81.1v3.86h-81.1zM867.9 56.08h100.1v3.86h-100.1zM867.9 59.94h70.1v3.86h-70.1zM867.9 63.8h78.1v3.86h-78.1zM867.9 67.66h78.1v3.86h-78.1zM867.9 71.52h76.1v3.86h-76.1zM867.9 75.38h85.1v3.86h-85.1zM867.9 79.24h93.1v3.86h-93.1zM867.9 83.1h40.1v3.86h-40.1zM867.9 86.96h55.1v3.86h-55.1zM867.9 90.82h104.1v3.86h-104.1zM867.9 94.68h100.1v3.86h-100.1zM867.9 98.54h66.1v3.86h-66.1zM867.9 102.4h100.1v3.86h-100.1zM867.9 106.26h84.1v3.86h-84.1zM867.9 110.12h84.1v3.86h-84.1zM867.9 113.98h88.1v3.86h-88.1zM867.9 117.84h66.1v3.86h-66.1zM867.9 121.7h72.1v3.86h-72.1zM867.9 125.56h104.1v3.86h-104.1zM867.9 129.42h84.1v3.86h-84.1zM867.9 133.28h55.1v3.86h-55.1zM867.9 137.14h49.1v3.86h-49.1zM867.9 141h37.1v3.86h-37.1zM867.9 144.86h72.1v3.86h-72.1zM867.9 148.72h116.1v3.86h-116.1zM867.9 152.58h91.1v3.86h-91.1zM867.9 156.44h61.1v3.86h-61.1zM867.9 160.3h91.1v3.86h-91.1zM867.9 164.16h85.1v3.86h-85.1zM867.9 168.02h82.1v3.86h-82.1zM867.9 171.88h64.1v3.86h-64.1zM867.9 175.74h79.1v3.86h-79.1zM867.9 179.6h134.1v3.86h-134.1zM867.9 183.46h98.1v3.86h-98.1zM867.9 187.32h62.1v3.86h-62.1zM867.9 191.18h113.1v3.86h-113.1zM867.9 195.04h90.1v3.86h-90.1zM867.9 198.9h65.1v3.86h-65.1zM867.9 202.76h87.1v3.86h-87.1zM867.9 206.62h97.1v3.86h-97.1zM867.9 210.48h70.1v3.86h-70.1zM867.9 214.34h64.1v3.86h-64.1zM867.9 218.2h76.1v3.86h-76.1zM867.9 222.06h59.1v3.86h-59.1zM867.9 225.92h52.1v3.86h-52.1zM867.9 229.78h97.1v3.86h-97.1zM867.9 233.64h96.1v3.86h-96.1zM867.9 237.5h100.1v3.86h-100.1zM867.9 241.36h48.1v3.86h-48.1zM867.9 245.22h58.1v3.86h-58.1zM867.9 249.08h79.1v3.86h-79.1zM867.9 252.94h91.1v3.86h-91.1zM867.9 256.8h109.1v3.86h-109.1zM867.9 260.66h78.1v3.86h-78.1zM867.9 264.52h131.1v3.86h-131.1zM867.9 268.38h66.1v3.86h-66.1zM867.9 272.24h67.1v3.86h-67.1zM867.9 276.1h63.1v3.86h-63.1zM867.9 279.96h79.1v3.86h-79.1zM867.9 283.82h93.1v3.86h-93.1zM867.9 287.68h104.1v3.86h-104.1zM867.9 291.54h83.1v3.86h-83.1zM867.9 295.4h68.1v3.86h-68.1zM867.9 299.26h100.1v3.86h-100.1zM867.9 303.12h118.1v3.86h-118.1zM867.9 306.98h86.1v3.86h-86.1zM867.9 310.84h78.1v3.86h-78.1zM867.9 314.7h78.1v3.86h-78.1zM867.9 318.56h110.1v3.86h-110.1zM867.9 322.42h74.1v3.86h-74.1zM867.9 326.28h66.1v3.86h-66.1zM867.9 330.14h54.1v3.86h-54.1zM867.9 334h85.1v3.86h-85.1zM867.9 337.86h84.1v3.86h-84.1zM867.9 341.72h91.1v3.86h-91.1zM867.9 345.58h94.1v3.86h-94.1zM867.9 349.44h65.1v3.86h-65.1zM867.9 353.3h112.1v3.86h-112.1zM867.9 357.16h67.1v3.86h-67.1zM867.9 361.02h73.1v3.86h-73.1zM867.9 364.88h92.1v3.86h-92.1zM867.9 368.74h96.1v3.86h-96.1zM867.9 372.6h97.1v3.86h-97.1zM867.9 376.46h52.1v3.86h-52.1zM867.9 380.32h54.1v3.86h-54.1zM867.9 384.18h85.1v3.86h-85.1zM867.9 388.04h81.1v3.86h-81.1zM867.9 391.9h37.1v3.86h-37.1zM867.9 395.76h42.1v3.86h-42.1zM867.9 399.62h98.1v3.86h-98.1zM867.9 403.48h135.1v3.86h-135.1zM867.9 407.34h92.1v3.86h-92.1zM867.9 411.2h108.1v3.86h-108.1zM867.9 415.06h81.1v3.86h-81.1zM867.9 418.92h87.1v3.86h-87.1zM867.9 422.78h79.1v3.86h-79.1zM867.9 426.64h102.1v3.86h-102.1zM867.9 430.5h116.1v3.86h-116.1zM867.9 434.36h94.1v3.86h-94.1zM867.9 438.22h118.1v3.86h-118.1zM867.9 442.08h44.1v3.86h-44.1zM867.9 445.94h106.1v3.86h-106.1zM867.9 449.8h124.1v3.86h-124.1zM867.9 453.66h68.1v3.86h-68.1zM867.9 457.52h84.1v3.86h-84.1zM867.9 461.38h39.1v3.86h-39.1zM867.9 465.24h87.1v3.86h-87.1zM867.9 469.1h122.1v3.86h-122.1zM867.9 472.96h75.1v3.86h-75.1zM867.9 476.82h102.1v3.86h-102.1zM867.9 480.68h136.1v3.86h-136.1zM867.9 484.54h98.1v3.86h-98.1zM867.9 488.4h99.1v3.86h-99.1zM867.9 492.26h120.1v3.86h-120.1zM867.9 496.12h109.1v3.86h-109.1zM867.9 499.98h101.1v3.86h-101.1zM867.9 503.84h127.1v3.86h-127.1zM867.9 507.7h106.1v3.86h-106.1zM867.9 511.56h115.1v3.86h-115.1zM867.9 515.42h78.1v3.86h-78.1zM867.9 519.28h126.1v3.86h-126.1zM867.9 523.14h106.1v3.86h-106.1zM867.9 527h98.1v3.86h-98.1zM867.9 530.86h74.1v3.86h-74.1zM867.9 534.72h112.1v3.86h-112.1zM867.9 538.58h92.1v3.86h-92.1zM867.9 542.44h74.1v3.86h-74.1zM867.9 546.3h135.1v3.86h-135.1zM867.9 550.16h124.1v3.86h-124.1zM867.9 554.02h110.1v3.86h-110.1zM867.9 557.88h72.1v3.86h-72.1zM867.9 561.74h90.1v3.86h-90.1zM867.9 565.6h90.1v3.86h-90.1zM867.9 569.46h10.1v3.86h-10.1zM867.9 573.32h108.1v3.86h-108.1zM867.9 577.18h53.1v3.86h-53.1zM867.9 581.04h97.1v3.86h-97.1zM867.9 584.9h51.1v3.86h-51.1zM867.9 588.76h122.1v3.86h-122.1zM867.9 592.62h59.1v3.86h-59.1zM867.9 596.48h54.1v3.86h-54.1zM867.9 600.34h29.1v3.86h-29.1zM867.9 604.2h63.1v3.86h-63.1zM867.9 608.06h75.1v3.86h-75.1zM867.9 611.92h79.1v3.86h-79.1zM867.9 615.78h48.1v3.86h-48.1zM867.9 619.64h54.1v3.86h-54.1zM867.9 623.5h20.1v3.86h-20.1zM867.9 627.36h60.1v3.86h-60.1zM867.9 631.22h50.1v3.86h-50.1zM867.9 635.08h7.1v3.86h-7.1zM867.9 638.94h8.1v3.86h-8.1zM867.9 642.8h35.1v3.86h-35.1zM867.9 646.66h33.1v3.86h-33.1zM867.9 650.52h34.1v3.86h-34.1zM867.9 654.38h99.1v3.86h-99.1zM867.9 658.24h68.1v3.86h-68.1zM867.9 662.1h22.1v3.86h-22.1zM867.9 665.96h21.1v3.86h-21.1zM867.9 669.82h23.1v3.86h-23.1zM867.9 673.68h68.1v3.86h-68.1zM867.9 677.54h68.1v3.86h-68.1zM867.9 681.4h90.1v3.86h-90.1zM867.9 685.26h42.1v3.86h-42.1zM867.9 689.12h56.1v3.86h-56.1zM867.9 692.98h22.1v3.86h-22.1zM867.9 696.84h29.1v3.86h-29.1zM867.9 700.7h32.1v3.86h-32.1zM867.9 704.56h21.1v3.86h-21.1zM867.9 708.42h43.1v3.86h-43.1zM867.9 712.28h71.1v3.86h-71.1zM867.9 716.14h57.1v3.86h-57.1zM867.9 720h24.1v3.86h-24.1zM867.9 723.86h64.1v3.86h-64.1zM867.9 727.72h11.1v3.86h-11.1zM867.9 731.58h40.1v3.86h-40.1zM867.9 735.44h0.1v3.86h-0.1zM867.9 739.3h23.1v3.86h-23.1zM867.9 743.16h32.1v3.86h-32.1zM867.9 747.02h25.1v3.86h-25.1zM867.9 750.88h16.1v3.86h-16.1zM867.9 754.74h28.1v3.86h-28.1zM867.9 758.6h37.1v3.86h-37.1zM867.9 762.46h134.1v3.86h-134.1zM867.9 766.32h88.1v3.86h-88.1zM867.9 770.18h40.1v3.86h-40.1zM867.9 774.04h16.1v3.86h-16.1zM867.9 777.9h48.1v3.86h-48.1zM867.9 781.76h82.1v3.86h-82.1zM867.9 785.62h83.1v3.86h-83.1zM867.9 789.48h0.1v3.86h-0.1zM867.9 793.34h53.1v3.86h-53.1zM867.9 797.2h46.1v3.86h-46.1zM867.9 801.06h13.1v3.86h-13.1zM867.9 804.92h34.1v3.86h-34.1zM867.9 808.78h36.1v3.86h-36.1zM867.9 812.64h55.1v3.86h-55.1zM867.9 816.5h60.1v3.86h-60.1zM867.9 820.36h76.1v3.86h-76.1zM867.9 824.22h16.1v3.86h-16.1zM867.9 828.08h36.1v3.86h-36.1zM867.9 831.94h19.1v3.86h-19.1zM867.9 835.8h44.1v3.86h-44.1zM867.9 839.66h29.1v3.86h-29.1zM867.9 843.52h18.1v3.86h-18.1zM867.9 847.38h30.1v3.86h-30.1zM867.9 851.24h9.1v3.86h-9.1zM867.9 855.1h37.1v3.86h-37.1zM867.9 858.96h40.1v3.86h-40.1zM867.9 862.82h49.1v3.86h-49.1zM867.9 866.68h0.1v3.86h-0.1zM867.9 870.54h38.1v3.86h-38.1zM867.9 874.4h0.1v3.86h-0.1zM867.9 878.26h19.1v3.86h-19.1zM867.9 882.12h50.1v3.86h-50.1zM867.9 885.98h54.1v3.86h-54.1zM867.9 889.84h10.1v3.86h-10.1zM867.9 893.7h30.1v3.86h-30.1zM867.9 897.56h38.1v3.86h-38.1zM867.9 901.42h10.1v3.86h-10.1zM867.9 905.28h50.1v3.86h-50.1zM867.9 909.14h30.1v3.86h-30.1zM867.9 913h42.1v3.86h-42.1zM867.9 916.86h62.1v3.86h-62.1zM867.9 920.72h29.1v3.86h-29.1zM867.9 924.58h12.1v3.86h-12.1zM867.9 928.44h57.1v3.86h-57.1zM867.9 932.3h40.1v3.86h-40.1zM867.9 936.16h38.1v3.86h-38.1zM867.9 940.02h36.1v3.86h-36.1zM867.9 943.88h23.1v3.86h-23.1zM867.9 947.74h5.1v3.86h-5.1zM867.9 951.6h27.1v3.86h-27.1zM867.9 955.46h41.1v3.86h-41.1zM867.9 959.32h72.1v3.86h-72.1zM867.9 963.18h31.1v3.86h-31.1zM867.9 967.04h89.1v3.86h-89.1zM867.9 970.9h2.1v3.86h-2.1zM867.9 974.76h18.1v3.86h-18.1zM867.9 978.62h12.1v3.86h-12.1zM867.9 982.48h6.1v3.86h-6.1zM867.9 986.34h0.1v3.86h-0.1zM867.9 990.2h2.1v3.86h-2.1zM867.9 994.06h53.1v3.86h-53.1zM867.9 997.92h12.1v3.86h-12.1z"/>
<rect x="867.9" y="117.19" width="139.2" height="1.3" fill="#1a0a00"/>
<rect x="867.9" y="209.83" width="139.2" height="1.3" fill="#1a0a00"/>
<rect x="867.9" y="317.91" width="139.2" height="1.3" fill="#1a0a00"/>
<rect x="867.9" y="348.79" width="139.2" height="1.3" fill="#1a0a00"/>
<rect x="867.9" y="402.83" width="139.2" height="1.3" fill="#1a0a00"/>
<rect x="867.9" y="464.59" width="139.2" height="1.3" fill="#1a0a00"/>
<rect x="867.9" y="561.09" width="139.2" height="1.3" fill="#1a0a00"/>
<rect x="867.9" y="626.71" width="139.2" height="1.3" fill="#1a0a00"/>
<rect x="867.9" y="811.99" width="139.2" height="1.3" fill="#1a0a00"/>
<rect x="861.9" y="-2" width="150.9" height="9" fill="#000"/></g>
<ellipse cx="502.8" cy="591" rx="0.9" ry="2" fill="#000" transform="rotate(20 502.8 591)"/>
<ellipse cx="676.3" cy="590.5" rx="0.7" ry="1.1" fill="#555"/>
<text x="149.2" y="72" text-anchor="end" transform="rotate(30 149.2 72)" class="lb">French</text>
<text x="149.2" y="175" text-anchor="end" transform="rotate(30 149.2 175)" class="lb">French<tspan class="us">_</tspan>Basque</text>
<text x="149.2" y="275.5" text-anchor="end" transform="rotate(30 149.2 275.5)" class="lb">Sardinian</text>
<text x="149.2" y="343.7" text-anchor="end" transform="rotate(30 149.2 343.7)" class="lb">Tuscan</text>
<text x="149.2" y="387.5" text-anchor="end" transform="rotate(30 149.2 387.5)" class="lb">North<tspan class="us">_</tspan>Italian</text>
<text x="149.2" y="445" text-anchor="end" transform="rotate(30 149.2 445)" class="lb">Orcadian</text>
<text x="149.2" y="524.5" text-anchor="end" transform="rotate(30 149.2 524.5)" class="lb">Russian</text>
<text x="149.2" y="605" text-anchor="end" transform="rotate(30 149.2 605)" class="lb">Adygei</text>
<text x="149.2" y="730.8" text-anchor="end" transform="rotate(30 149.2 730.8)" class="lb">Druze</text>
<text x="149.2" y="918.5" text-anchor="end" transform="rotate(30 149.2 918.5)" class="lb">Bedouin</text>
<text x="1024.5" y="72" text-anchor="start" transform="rotate(30 1024.5 72)" class="lb">France</text>
<text x="1024.5" y="175" text-anchor="start" transform="rotate(30 1024.5 175)" class="lb">France</text>
<text x="1024.5" y="274.5" text-anchor="start" transform="rotate(30 1024.5 274.5)" class="lb">Italy</text>
<text x="1024.5" y="344.5" text-anchor="start" transform="rotate(30 1024.5 344.5)" class="lb">Italy</text>
<text x="1024.5" y="388" text-anchor="start" transform="rotate(30 1024.5 388)" class="lb">Italy<tspan class="us">_</tspan>(Bergamo)</text>
<text x="1024.5" y="447" text-anchor="start" transform="rotate(30 1024.5 447)" class="lb">Orkney<tspan class="us">_</tspan>Islands</text>
<text x="1024.5" y="523.8" text-anchor="start" transform="rotate(30 1024.5 523.8)" class="lb">Russia</text>
<text x="1024.5" y="605" text-anchor="start" transform="rotate(30 1024.5 605)" class="lb">Russia<tspan class="us">_</tspan>Caucasus</text>
<text x="1024.5" y="730" text-anchor="start" transform="rotate(30 1024.5 730)" class="lb">Israel<tspan class="us">_</tspan>(Carmel)</text>
<text x="1025" y="917.7" text-anchor="start" transform="rotate(30 1025 917.7)" class="lb">Israel<tspan class="us">_</tspan>(Negev)</text>
<text x="233.3" y="1042.5" text-anchor="middle" class="bt">K-means</text>
<text x="401" y="1042.5" text-anchor="middle" class="bt">S. K-means</text>
<text x="582" y="1042.5" text-anchor="middle" class="bt">Spectral w/</text>
<text x="580.5" y="1073.8" text-anchor="middle" class="bt">K-means</text>
<text x="769" y="1042.5" text-anchor="middle" class="bt">Spectral w/</text>
<text x="772" y="1073.8" text-anchor="middle" class="bt">S. K-means</text>
<text x="931" y="1042.5" text-anchor="middle" class="bt">structure</text>
</svg>
</body></html>
